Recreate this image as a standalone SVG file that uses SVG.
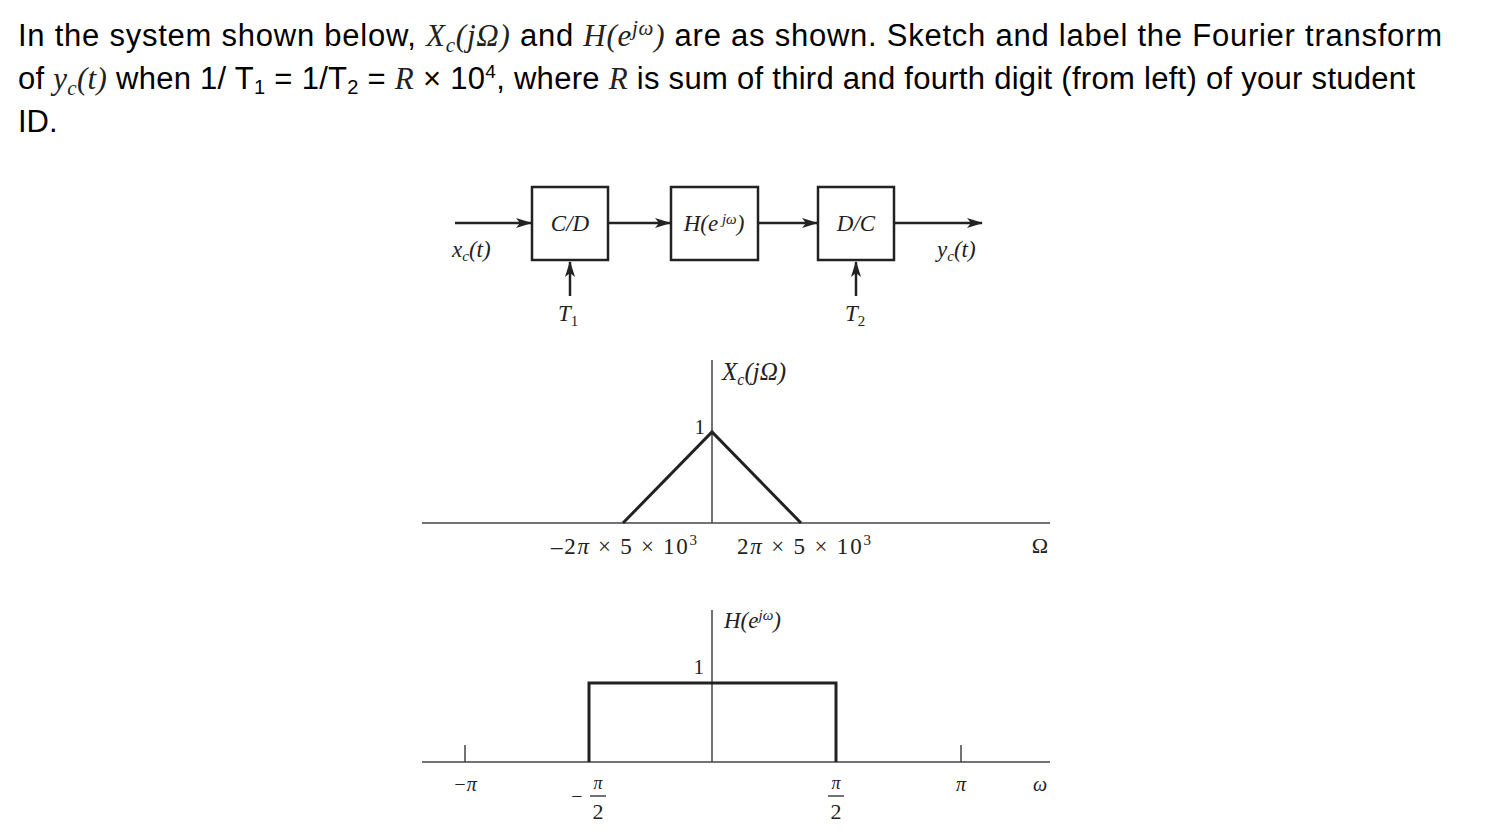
<svg xmlns="http://www.w3.org/2000/svg" width="1490" height="836" viewBox="0 0 1490 836">
<style>
.q{font-family:"Liberation Sans",Arial,sans-serif;font-size:31px;fill:#000}
.m{font-family:"Liberation Serif","Times New Roman",serif;font-style:italic;fill:#222}
.r{font-family:"Liberation Serif","Times New Roman",serif;fill:#222}
.box{fill:#fff;stroke:#222;stroke-width:2.5}
.ln{stroke:#222;stroke-width:2.5;fill:none}
.ax{stroke:#444;stroke-width:1.5;fill:none}
.th{stroke:#222;stroke-width:3;fill:none}
</style>
<defs><marker id="a" markerWidth="16" markerHeight="10" refX="15" refY="5" orient="auto" markerUnits="userSpaceOnUse"><path d="M0,0 L16,5 L0,10 L4,5 Z" fill="#222"/></marker></defs>
<rect width="1490" height="836" fill="#fff"/>
<text class="q" x="18" y="46" textLength="1424" lengthAdjust="spacing">In the system shown below, <tspan class="m" font-family="Liberation Serif">X<tspan font-size="21" dy="6">c</tspan><tspan dy="-6">(jΩ)</tspan></tspan> and <tspan class="m" font-family="Liberation Serif">H(e<tspan font-size="21" dy="-11">jω</tspan><tspan dy="11">)</tspan></tspan> are as shown. Sketch and label the Fourier transform</text>
<text class="q" x="18" y="89" textLength="1397" lengthAdjust="spacing">of <tspan class="m" font-family="Liberation Serif">y<tspan font-size="21" dy="6">c</tspan><tspan dy="-6">(t)</tspan></tspan> when 1/ T<tspan font-size="20" dy="5">1</tspan><tspan dy="-5"> = 1/T</tspan><tspan font-size="20" dy="5">2</tspan><tspan dy="-5"> = </tspan><tspan class="m" font-family="Liberation Serif">R</tspan> × 10<tspan font-size="19" dy="-11">4</tspan><tspan dy="11">, where </tspan><tspan class="m" font-family="Liberation Serif">R</tspan> is sum of third and fourth digit (from left) of your student</text>
<text class="q" x="18" y="132">ID.</text>
<g id="connectors">
<line class="ln" x1="455" y1="223" x2="531" y2="223" marker-end="url(#a)"/>
<line class="ln" x1="608" y1="223" x2="670" y2="223" marker-end="url(#a)"/>
<line class="ln" x1="758" y1="223" x2="817" y2="223" marker-end="url(#a)"/>
<line class="ln" x1="894" y1="223" x2="982" y2="223" marker-end="url(#a)"/>
<line class="ln" x1="570" y1="296" x2="570" y2="262" marker-end="url(#a)"/>
<line class="ln" x1="856" y1="296" x2="856" y2="262" marker-end="url(#a)"/>
</g>
<g id="cd"><rect class="box" x="532" y="187" width="76" height="73"/><text class="m" x="570" y="231" font-size="23" text-anchor="middle">C/D</text></g>
<g id="h"><rect class="box" x="671" y="187" width="87" height="73"/><text class="m" x="714" y="231" font-size="23" text-anchor="middle">H(e<tspan font-size="15" dy="-7"> jω</tspan><tspan dy="7">)</tspan></text></g>
<g id="dc"><rect class="box" x="818" y="187" width="76" height="73"/><text class="m" x="856" y="231" font-size="23" text-anchor="middle">D/C</text></g>
<text class="m" x="452" y="257" font-size="23">x<tspan font-size="15" dy="4">c</tspan><tspan dy="-4">(t)</tspan></text>
<text class="m" x="937" y="257" font-size="23">y<tspan font-size="15" dy="4">c</tspan><tspan dy="-4">(t)</tspan></text>
<text class="m" x="558" y="321" font-size="23">T<tspan font-size="15" dy="5" font-style="normal">1</tspan></text>
<text class="m" x="845" y="321" font-size="23">T<tspan font-size="15" dy="5" font-style="normal">2</tspan></text>
<g id="xplot">
<line class="ax" x1="422" y1="523" x2="1050" y2="523"/>
<line class="ax" x1="712" y1="360" x2="712" y2="523"/>
<polyline class="th" points="623,523 712,432 801,523"/>
<text class="m" x="722" y="380" font-size="25">X<tspan font-size="16" dy="5">c</tspan><tspan dy="-5">(jΩ)</tspan></text>
<text class="r" x="705" y="434" font-size="21" text-anchor="end">1</text>
<text class="r" x="624" y="554" font-size="23" text-anchor="middle" textLength="146" lengthAdjust="spacing">–2<tspan font-style="italic">π</tspan> × 5 × 10<tspan font-size="15" dy="-9">3</tspan></text>
<text class="r" x="804" y="554" font-size="23" text-anchor="middle" textLength="134" lengthAdjust="spacing">2<tspan font-style="italic">π</tspan> × 5 × 10<tspan font-size="15" dy="-9">3</tspan></text>
<text class="r" x="1040" y="553" font-size="22" text-anchor="middle">Ω</text>
</g>
<g id="hplot">
<line class="ax" x1="422" y1="762" x2="1050" y2="762"/>
<line class="ax" x1="712" y1="610" x2="712" y2="762"/>
<line class="ax" x1="465" y1="745" x2="465" y2="762"/>
<line class="ax" x1="961" y1="745" x2="961" y2="762"/>
<polyline class="th" points="589,762 589,683 836,683 836,762"/>
<text class="m" x="724" y="628" font-size="23">H(e<tspan font-size="15" dy="-8">jω</tspan><tspan dy="8">)</tspan></text>
<text class="r" x="704" y="674" font-size="21" text-anchor="end">1</text>
<text class="m" x="465" y="791" font-size="20" text-anchor="middle">−π</text>
<text class="m" x="598" y="789" font-size="18" text-anchor="middle">π</text>
<line class="ax" x1="590" y1="796" x2="606" y2="796"/>
<text class="r" x="598" y="819" font-size="22" text-anchor="middle">2</text>
<text class="r" x="577" y="803" font-size="20" text-anchor="middle">−</text>
<text class="m" x="836" y="789" font-size="18" text-anchor="middle">π</text>
<line class="ax" x1="828" y1="796" x2="844" y2="796"/>
<text class="r" x="836" y="819" font-size="22" text-anchor="middle">2</text>
<text class="m" x="961" y="791" font-size="20" text-anchor="middle">π</text>
<text class="m" x="1040" y="791" font-size="20" text-anchor="middle">ω</text>
</g>
</svg>
